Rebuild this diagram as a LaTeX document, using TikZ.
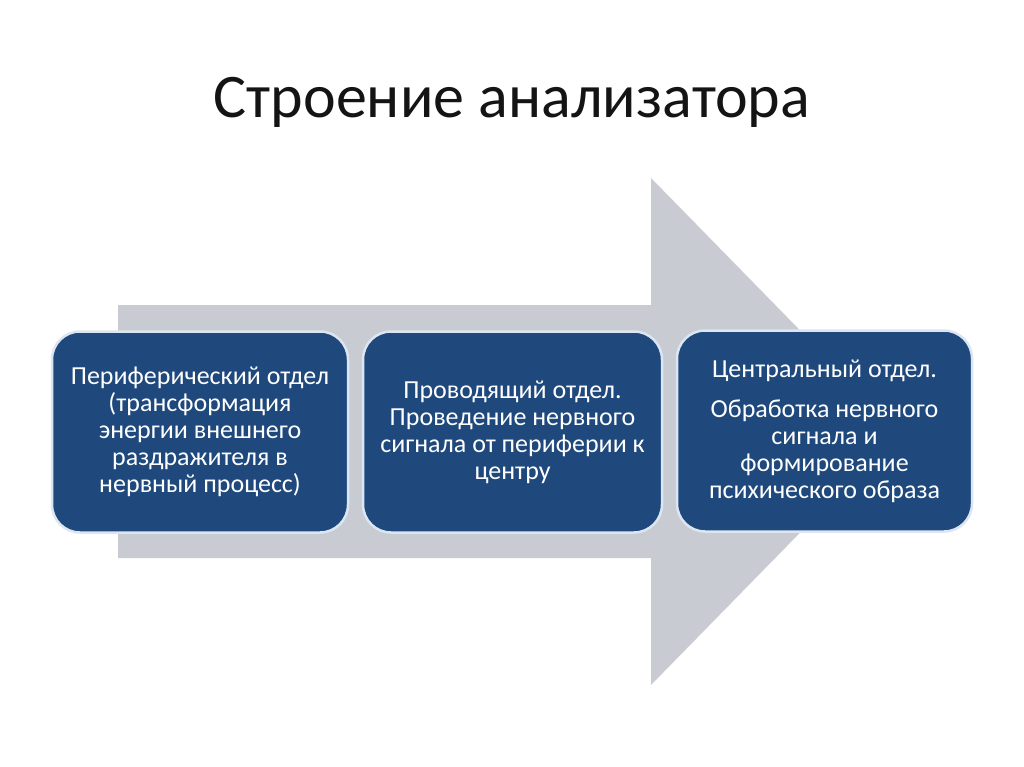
\documentclass[tikz,border=0pt]{standalone}
\usepackage{fontspec}
\setmainfont{Carlito}
\usepackage{tikz}
\usetikzlibrary{positioning}

\definecolor{boxblue}{RGB}{31,73,125}
\definecolor{boxrim}{RGB}{220,230,242}
\definecolor{arrowgray}{RGB}{201,203,211}
\definecolor{titleblack}{RGB}{20,20,20}

\begin{document}
\begin{tikzpicture}[x=1pt,y=-1pt,
  part/.style={draw=boxrim,line width=2.5pt,fill=boxblue,rounded corners=28pt,
    text=white,align=center,minimum height=201pt,inner sep=0pt,
    font=\fontsize{26}{27}\selectfont}]
\useasboundingbox (0,0) rectangle (1024,767);
\fill[white] (0,0) rectangle (1024,767);
% big arrow
\fill[arrowgray] (118,305) -- (651,305) -- (651,178) -- (899,431.5)
  -- (651,685) -- (651,558) -- (118,558) -- cycle;
\node[font=\fontsize{62}{70}\selectfont,text=titleblack,anchor=base] (title) at (512,118) {Строение анализатора};
\node[part,minimum width=296pt] (periph) at (200,432) {Периферический отдел\\(трансформация\\энергии внешнего\\раздражителя в\\нервный процесс)};
\node[part,minimum width=299pt] (conduct) at (512.5,432) {Проводящий отдел.\\Проведение нервного\\сигнала от периферии к\\центру};
\node[part,minimum width=295pt] (central) at (824.5,431) {Центральный отдел.\\[13pt]Обработка нервного\\сигнала и\\формирование\\психического образа};
\end{tikzpicture}
\end{document}
